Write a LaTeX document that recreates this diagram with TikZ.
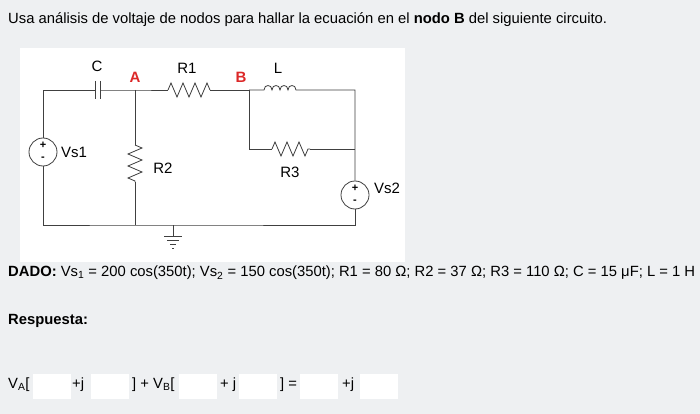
\documentclass[tikz,border=0pt]{standalone}
\usepackage{fontspec}
\setmainfont{Liberation Sans}
\usetikzlibrary{positioning,decorations.pathmorphing}
\definecolor{nodered}{RGB}{220,40,40}
\definecolor{panelgray}{RGB}{238,240,242}
\tikzset{
  wire/.style={draw=black!75,line width=0.8pt},
  res/.style={wire,decorate,decoration={zigzag,segment length=12pt,amplitude=7pt}},
  src/.style={circle,draw=black!75,line width=0.8pt,minimum size=28pt,inner sep=0pt},
  sgn/.style={font=\bfseries\fontsize{11}{11}\selectfont,inner sep=0pt},
  lbl/.style={font=\fontsize{15}{17}\selectfont},
  box/.style={fill=white,draw=none,minimum height=25pt,minimum width=38pt,inner sep=0pt},
  txt/.style={font=\fontsize{14.8}{17}\selectfont,anchor=west,inner sep=0pt}
}
\begin{document}
\begin{tikzpicture}[x=1pt,y=-1pt]
  \useasboundingbox (0,0) rectangle (700,414);
  \fill[panelgray] (0,0) rectangle (700,414);
  \fill[white] (20,48) rectangle (405,262);
  %enunciado
  \node[txt] (titulo) at (8,20) {Usa análisis de voltaje de nodos para hallar la ecuación en el \textbf{nodo B} del siguiente circuito.};
  %esquinas y nodos
  \coordinate (tl) at (43,90);
  \coordinate (bl) at (43,225);
  \coordinate (A) at (135,90);
  \coordinate (B) at (249,90);
  \coordinate (tr) at (355,90);
  \coordinate (br) at (355,225);
  \coordinate (Ab) at (135,225);
  \coordinate (g) at (173,225);
  \coordinate (Bm) at (249,149);
  \coordinate (rm) at (355,149);
  \node[src] (vs1) at (43,152) {};
  \node[src] (vs2) at (355,195) {};
  \node[sgn] at ([yshift=7]vs1.center) {+};
  \node[sgn] at ([yshift=-7]vs1.center) {-};
  \node[sgn] at ([yshift=7]vs2.center) {+};
  \node[sgn] at ([yshift=-7]vs2.center) {-};
  %malla izquierda
  \draw[wire] (vs1.north) -- (tl) -- (95,90);
  \draw[wire] (95,81) -- (95,99) (100,81) -- (100,99);
  \draw[wire] (100,90) -- (A) -- (168,90);
  \draw[res] (168,90) -- (210,90);
  \draw[wire] (210,90) -- (B);
  \draw[wire] (vs1.south) -- (bl) -- (Ab) -- (g) -- (br) -- (vs2.south);
  \draw[wire] (A) -- (135,145);
  \draw[res] (135,145) -- (135,182);
  \draw[wire] (135,182) -- (Ab);
  %inductor y R3
  \draw[wire] (B) -- (264,90)
    .. controls (264,84) and (272,84) .. (272,90)
    .. controls (272,84) and (280,84) .. (280,90)
    .. controls (280,84) and (288,84) .. (288,90)
    .. controls (288,84) and (296,84) .. (296,90)
    -- (tr) -- (vs2.north);
  \draw[wire] (B) -- (Bm) -- (272,149);
  \draw[res] (272,149) -- (310,149);
  \draw[wire] (310,149) -- (rm);
  %tierra
  \draw[wire] (g) -- (173,236);
  \draw[wire] (164,236) -- (182,236) (167,240) -- (179,240) (170,244) -- (176,244) (172,248) -- (174,248);
  %etiquetas
  \node[lbl] (lC) at (97,66) {C};
  \node[lbl,text=nodered,font=\bfseries\fontsize{15}{17}\selectfont] (lA) at (135,77) {A};
  \node[lbl] (lR1) at (187,68) {R1};
  \node[lbl,text=nodered,font=\bfseries\fontsize{15}{17}\selectfont] (lB) at (241,77) {B};
  \node[lbl] (lL) at (278,68) {L};
  \node[lbl] (lVs1) at (74,152) {Vs1};
  \node[lbl] (lR2) at (163,168) {R2};
  \node[lbl] (lR3) at (290,172) {R3};
  \node[lbl] (lVs2) at (387,188) {Vs2};
  %datos
  \node[txt] (dado) at (8,273) {\textbf{DADO:} Vs\textsubscript{1} = 200 cos(350t); Vs\textsubscript{2} = 150 cos(350t); R1 = 80 Ω; R2 = 37 Ω; R3 = 110 Ω; C = 15 μF; L = 1 H};
  \node[txt] (resp) at (8,321) {\textbf{Respuesta:}};
  %casillas
  \node[txt] (va) at (8,385) {V\textsubscript{A}[};
  \node[box] (b1) at (52,386) {};
  \node[txt] (j1) at (72,385) {+j};
  \node[box] (b2) at (110,386) {};
  \node[txt] (vb) at (132,385) {] + V\textsubscript{B}[};
  \node[box] (b3) at (198,386) {};
  \node[txt] (j2) at (220,385) {+ j};
  \node[box] (b4) at (258,386) {};
  \node[txt] (eq) at (280,385) {] =};
  \node[box] (b5) at (319,386) {};
  \node[txt] (j3) at (342,385) {+j};
  \node[box] (b6) at (379,386) {};
\end{tikzpicture}
\end{document}
